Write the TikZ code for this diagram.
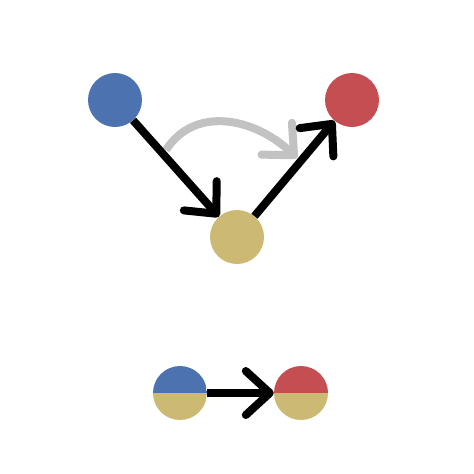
\documentclass[tikz,border=0pt]{standalone}
\usetikzlibrary{arrows.meta}
\definecolor{cblue}{HTML}{4C72B0}
\definecolor{cred}{HTML}{C44E52}
\definecolor{cyellow}{HTML}{CCB974}
\definecolor{cgray}{HTML}{C2C2C2}
\tikzset{
	dot/.style={circle,draw=none,inner sep=0pt,minimum size=54pt},
	halfdot/.style={dot,path picture={
		\fill[cyellow] (path picture bounding box.south west) rectangle (path picture bounding box.east);
		\fill[#1] (path picture bounding box.west) rectangle (path picture bounding box.north east);}},
	>={Straight Barb[length=24pt,width=44pt,round]},
	link/.style={line width=8pt,->},
}
\begin{document}
\begin{tikzpicture}[x=1pt,y=-1pt]
		\useasboundingbox (0,0) rectangle (474,474);
		\node[dot,fill=cblue] (blue) at (115,100) {};
		\node[dot,fill=cred] (red) at (352,100) {};
		\node[dot,fill=cyellow] (yellow) at (237,237) {};
		\coordinate (arcstart) at (166,150);
		\coordinate (arcend) at (297,158);
		\draw[link,cgray] (arcstart) .. controls (195,105) and (255,118) .. (arcend);
		\draw[link] (blue) -- (yellow);
		\draw[link] (yellow) -- (red);
		\node[halfdot=cblue] (left) at (180,393) {};
		\node[halfdot=cred] (right) at (301,393) {};
		\draw[link] (left) -- (right);
	\end{tikzpicture}
\end{document}
